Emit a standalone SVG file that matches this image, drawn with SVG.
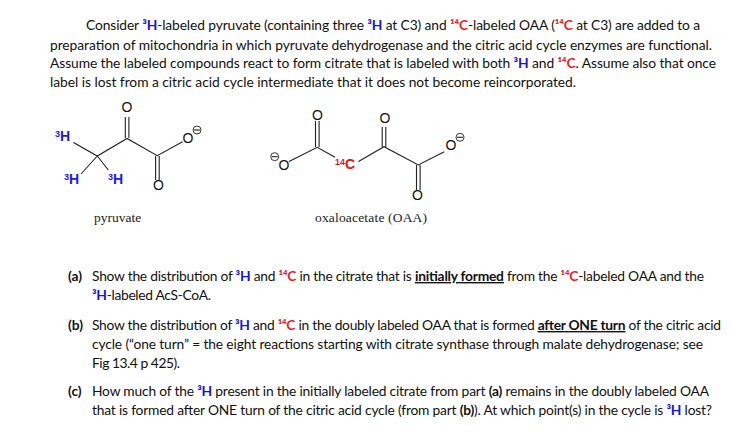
<svg xmlns="http://www.w3.org/2000/svg" width="754" height="440" viewBox="0 0 754 440">
<style>
text{font-family:"Lato","Open Sans","DejaVu Sans",sans-serif}
.t{font-size:13.8px;fill:#111}
.b{font-weight:700}
.h{font-weight:700;fill:#1414e6}
.c{font-weight:700;fill:#ee1c25}
.u{font-weight:700;text-decoration:underline}
.a{font-family:"Liberation Sans",Arial,sans-serif;font-size:14px;fill:#111;text-anchor:middle}
.ah{font-family:"Liberation Sans",Arial,sans-serif;font-size:14px;fill:#1a1af0;font-weight:700}
.ac{font-family:"Liberation Sans",Arial,sans-serif;font-size:14px;fill:#f01010;font-weight:700}
.s{font-size:9px;font-weight:700}
.l{font-family:"Liberation Serif",serif;font-size:13.5px;fill:#222}
.bond{stroke:#222;stroke-width:1.1;fill:none}
.min{stroke:#222;stroke-width:.9;fill:#fff}
</style>
<rect width="754" height="440" fill="#fff"/>
<g id="intro">
<text class="t" x="86" y="30" textLength="614">Consider <tspan class="h">³H</tspan>-labeled pyruvate (containing three <tspan class="h">³H</tspan> at C3) and <tspan class="c">¹⁴C</tspan>-labeled OAA (<tspan class="c">¹⁴C</tspan> at C3) are added to a</text>
<text class="t" x="50" y="50" textLength="662">preparation of mitochondria in which pyruvate dehydrogenase and the citric acid cycle enzymes are functional.</text>
<text class="t" x="50" y="68" textLength="666">Assume the labeled compounds react to form citrate that is labeled with both <tspan class="h">³H</tspan> and <tspan class="c">¹⁴C</tspan>. Assume also that once</text>
<text class="t" x="50" y="87" textLength="526">label is lost from a citric acid cycle intermediate that it does not become reincorporated.</text>
</g>
<g id="pyruvate">
<path class="bond" d="M73.5 142.5L97.3 156L127 138.5L157.3 155.7L182.5 141.7M97.3 156L81 174M97.3 156L108.3 170M125.3 138V117M128.9 138V117M155.6 156V180M159.2 156V180"/>
<text class="a" x="127" y="112">O</text>
<text class="a" x="158.5" y="189.5">O</text>
<text class="a" x="188" y="142.5">O</text>
<circle class="min" cx="197" cy="130" r="4"/><path class="bond" d="M194 130H200"/>
<text class="ah" x="55" y="141"><tspan class="s" dy="-4">3</tspan><tspan dy="4">H</tspan></text>
<text class="ah" x="64" y="184"><tspan class="s" dy="-4">3</tspan><tspan dy="4">H</tspan></text>
<text class="ah" x="108" y="184"><tspan class="s" dy="-4">3</tspan><tspan dy="4">H</tspan></text>
<text class="l" x="94" y="222">pyruvate</text>
</g>
<g id="oxaloacetate">
<path class="bond" d="M289 161.5L317.3 147.3L335 157.3M358.5 161.5L384 146.7L418.3 165L444.3 151.7M315.5 147V121M319.1 147V121M382.2 147V127M385.8 147V127M416.5 165V190M420.1 165V190"/>
<text class="a" x="284" y="169.5">O</text>
<circle class="min" cx="274.7" cy="156.7" r="4"/><path class="bond" d="M271.7 156.7H277.7"/>
<text class="a" x="317.5" y="119.5">O</text>
<text class="a" x="385" y="122.5">O</text>
<text class="a" x="417.5" y="200">O</text>
<text class="a" x="451" y="150">O</text>
<circle class="min" cx="460" cy="137.3" r="4"/><path class="bond" d="M457 137.3H463"/>
<text class="ac" x="335" y="168.5"><tspan class="s" dy="-4">14</tspan><tspan dy="4">C</tspan></text>
<text class="l" x="315" y="222" textLength="112">oxaloacetate (OAA)</text>
</g>
<g id="part-a">
<text class="t b" x="68" y="281">(a)</text>
<text class="t" x="92" y="281" textLength="612">Show the distribution of <tspan class="h">³H</tspan> and <tspan class="c">¹⁴C</tspan> in the citrate that is <tspan class="u">initially formed</tspan> from the <tspan class="c">¹⁴C</tspan>-labeled OAA and the</text>
<text class="t" x="92" y="300" textLength="119"><tspan class="h">³H</tspan>-labeled AcS-CoA.</text>
</g>
<g id="part-b">
<text class="t b" x="68" y="330">(b)</text>
<text class="t" x="92" y="330" textLength="629">Show the distribution of <tspan class="h">³H</tspan> and <tspan class="c">¹⁴C</tspan> in the doubly labeled OAA that is formed <tspan class="u">after ONE turn</tspan> of the citric acid</text>
<text class="t" x="92" y="349" textLength="611">cycle (“one turn” = the eight reactions starting with citrate synthase through malate dehydrogenase; see</text>
<text class="t" x="92" y="368" textLength="88">Fig 13.4 p 425).</text>
</g>
<g id="part-c">
<text class="t b" x="68" y="396">(c)</text>
<text class="t" x="92" y="396" textLength="617">How much of the <tspan class="h">³H</tspan> present in the initially labeled citrate from part <tspan class="b">(a)</tspan> remains in the doubly labeled OAA</text>
<text class="t" x="92" y="415" textLength="620">that is formed after ONE turn of the citric acid cycle (from part <tspan class="b">(b)</tspan>). At which point(s) in the cycle is <tspan class="h">³H</tspan> lost?</text>
</g>
</svg>
